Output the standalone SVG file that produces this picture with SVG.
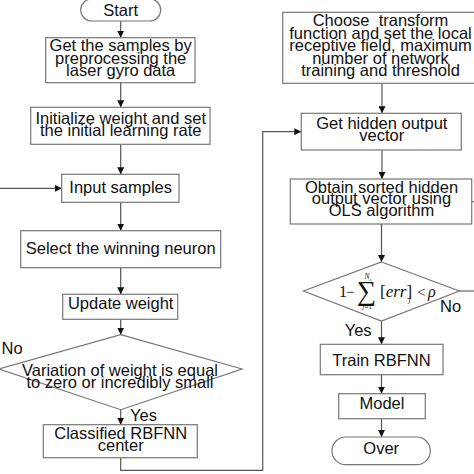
<svg xmlns="http://www.w3.org/2000/svg" width="474" height="474" viewBox="0 0 474 474">
<defs>
<marker id="ah" viewBox="0 0 10 10" refX="10" refY="5" markerWidth="7" markerHeight="7" markerUnits="userSpaceOnUse" orient="auto">
<path d="M0,0 L10,5 L0,10 z" fill="#111"/>
</marker>
<style>
.b{fill:#fff;stroke:#777;stroke-width:1.2}
.c{fill:none;stroke:#666;stroke-width:1.2}
.a{fill:none;stroke:#555;stroke-width:1.2;marker-end:url(#ah)}
.t{font-family:"Liberation Sans",Arial,sans-serif;font-size:16.5px;fill:#111;text-anchor:middle}
.l{font-family:"Liberation Sans",Arial,sans-serif;font-size:16.5px;fill:#111}
.m{font-family:"Liberation Serif","Times New Roman",serif;fill:#111}
</style>
</defs>
<rect width="474" height="474" fill="#fff"/>

<g id="connectors">
<line class="a" x1="120.7" y1="21" x2="120.7" y2="37.7"/>
<line class="a" x1="120.7" y1="82.7" x2="120.7" y2="107.3"/>
<line class="a" x1="120.7" y1="144.3" x2="120.7" y2="174.3"/>
<line class="a" x1="0" y1="188.3" x2="61.7" y2="188.3"/>
<line class="a" x1="120.7" y1="202.3" x2="120.7" y2="230.7"/>
<line class="a" x1="120.7" y1="267.7" x2="120.7" y2="294.3"/>
<line class="a" x1="120.7" y1="319.3" x2="120.7" y2="334.7"/>
<line class="a" x1="120.7" y1="409.7" x2="120.7" y2="424.7"/>
<polyline class="a" points="120.7,457.7 120.7,470.3 262.7,470.3 262.7,131.7 301.3,131.7"/>
<line class="a" x1="382" y1="83.3" x2="382" y2="113.3"/>
<line class="a" x1="382" y1="150" x2="382" y2="179"/>
<line class="a" x1="381.5" y1="224" x2="381.5" y2="262"/>
<line class="c" x1="459.3" y1="291" x2="476" y2="291"/>
<line class="c" x1="471.7" y1="201.7" x2="476" y2="201.7"/>
<line class="a" x1="381.5" y1="321" x2="381.5" y2="344.3"/>
<line class="a" x1="381.5" y1="374.7" x2="381.5" y2="393.7"/>
<line class="a" x1="381.5" y1="418.7" x2="381.5" y2="437"/>
</g>

<g id="start">
<rect class="b" x="80.7" y="-1" width="80" height="22" rx="11"/>
<text class="t" x="120.7" y="15.5">Start</text>
</g>

<g id="preprocess">
<rect class="b" x="45.7" y="37.7" width="149.3" height="45"/>
<text class="t" x="120.7" y="51">Get the samples by</text>
<text class="t" x="120.7" y="63.5">preprocessing the</text>
<text class="t" x="120.7" y="76">laser gyro data</text>
</g>

<g id="init">
<rect class="b" x="30.7" y="107.3" width="179.3" height="37"/>
<text class="t" x="120.7" y="124">Initialize weight and set</text>
<text class="t" x="120.7" y="136">the initial learning rate</text>
</g>

<g id="input">
<rect class="b" x="61.7" y="174.3" width="117.3" height="28"/>
<text class="t" x="120.7" y="192.7">Input samples</text>
</g>

<g id="select">
<rect class="b" x="20.7" y="230.7" width="200" height="37"/>
<text class="t" x="120.7" y="253.7">Select the winning neuron</text>
</g>

<g id="update">
<rect class="b" x="62.7" y="294.3" width="115" height="25"/>
<text class="t" x="120.7" y="309.3">Update weight</text>
</g>

<g id="decision1">
<polygon class="b" points="120.7,334.7 242,369 120.7,409.7 -1,369"/>
<text class="t" x="120" y="376.3">Variation of weight is equal</text>
<text class="t" x="120" y="388">to zero or incredibly small</text>
<text class="l" x="1.5" y="353.7">No</text>
<text class="l" x="130" y="421">Yes</text>
</g>

<g id="classified">
<rect class="b" x="43.3" y="424.7" width="154" height="33"/>
<text class="t" x="120.7" y="439">Classified RBFNN</text>
<text class="t" x="120.7" y="450.5">center</text>
</g>

<g id="choose">
<rect class="b" x="282.7" y="12.3" width="198" height="71"/>
<text class="t" x="380.5" y="26" xml:space="preserve" style="white-space:pre">Choose  transform</text>
<text class="t" x="380.5" y="38.6">function and set the local</text>
<text class="t" x="380.5" y="51.2">receptive field, maximum</text>
<text class="t" x="380.5" y="63.8">number of network</text>
<text class="t" x="380.5" y="76.4">training and threshold</text>
</g>

<g id="hidden">
<rect class="b" x="301.3" y="113.3" width="160" height="36.7"/>
<text class="t" x="381.8" y="129.3">Get hidden output</text>
<text class="t" x="381.8" y="140.7">vector</text>
</g>

<g id="ols">
<rect class="b" x="290.3" y="179" width="181.4" height="45"/>
<text class="t" x="381.5" y="192.7">Obtain sorted hidden</text>
<text class="t" x="381.5" y="204.3">output vector using</text>
<text class="t" x="381.5" y="216">OLS algorithm</text>
</g>

<g id="decision2">
<polygon class="b" points="381.5,262 459.3,291 381.5,321 303.5,291"/>
<text class="m" x="339" y="297" font-size="16">1</text>
<text class="m" x="346" y="296.5" font-size="15">−</text>
<text class="m" x="357" y="300" font-size="27">∑</text>
<text class="m" x="364.5" y="279" font-size="7.5" font-style="italic">N<tspan font-size="5" dy="1.5">s</tspan></text>
<text class="m" x="362.5" y="309" font-size="7" font-style="italic">j<tspan font-style="normal">=1</tspan></text>
<text class="m" x="380" y="297" font-size="17">[<tspan font-style="italic">err</tspan>]</text>
<text class="m" x="408.5" y="301.5" font-size="8" font-style="italic">j</text>
<text class="m" x="417" y="296.5" font-size="15">&lt;</text>
<text class="m" x="428" y="296.5" font-size="16" font-style="italic">ρ</text>
<text class="l" x="440" y="312">No</text>
<text class="l" x="344.7" y="336.3">Yes</text>
</g>

<g id="train">
<rect class="b" x="320.3" y="344.3" width="122.7" height="30.4"/>
<text class="t" x="381.5" y="366">Train RBFNN</text>
</g>

<g id="model">
<rect class="b" x="338.7" y="393.7" width="86.6" height="25"/>
<text class="t" x="382" y="408.7">Model</text>
</g>

<g id="over">
<rect class="b" x="332" y="437" width="98.3" height="27.7" rx="13.8"/>
<text class="t" x="381.2" y="454.3">Over</text>
</g>
</svg>
